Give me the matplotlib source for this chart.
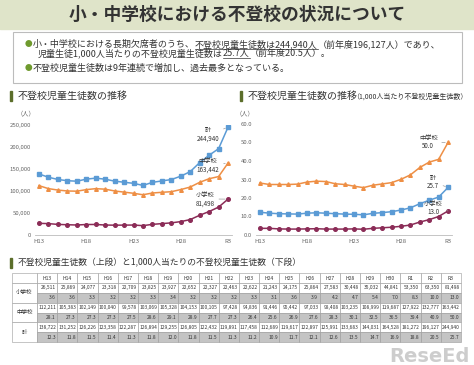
import numpy as np
import matplotlib.pyplot as plt
from matplotlib.patches import Rectangle

plt.rcParams['font.family'] = ['Noto Sans CJK JP', 'DejaVu Sans']

years = ["H13", "H14", "H15", "H16", "H17", "H18", "H19", "H20", "H21", "H22",
         "H23", "H24", "H25", "H26", "H27", "H28", "H29", "H30", "R1", "R2", "R3"]
elem = [26511, 25869, 24077, 23318, 22709, 23825, 23927, 22652, 22327, 22463,
        22622, 21243, 24175, 25864, 27583, 30448, 35032, 44841, 53350, 63350, 81498]
junior = [112211, 105383, 102149, 100040, 99578, 103069, 105328, 104153, 100105, 97428,
          94836, 91446, 95442, 97033, 98408, 103235, 108999, 119687, 127922, 132777, 163442]
total = [138722, 131252, 126226, 123358, 122287, 126894, 129255, 126805, 122432, 119891,
         117458, 112689, 119617, 122897, 125991, 133683, 144031, 164528, 181272, 196127, 244940]
elem_rate = [3.6, 3.6, 3.3, 3.2, 3.2, 3.3, 3.4, 3.2, 3.2, 3.2,
             3.3, 3.1, 3.6, 3.9, 4.2, 4.7, 5.4, 7.0, 8.3, 10.0, 13.0]
junior_rate = [28.1, 27.3, 27.3, 27.3, 27.5, 28.6, 29.1, 28.9, 27.7, 27.3,
               26.4, 25.6, 26.9, 27.6, 28.3, 30.1, 32.5, 36.5, 39.4, 40.9, 50.0]
total_rate = [12.3, 11.8, 11.5, 11.4, 11.3, 11.8, 12.0, 11.8, 11.5, 11.3,
              11.2, 10.9, 11.7, 12.1, 12.6, 13.5, 14.7, 16.9, 18.8, 20.5, 25.7]
row_names = ["小学校", "中学校", "計"]

c_total = "#5b9bd5"
c_junior = "#ee8f45"
c_elem = "#8b2c57"
c_green = "#6f9a2e"
txt = "#333333"
W, H = 474, 365

fig = plt.figure(figsize=(4.74, 3.65), dpi=100)
fig.patch.set_facecolor("white")

# overlay in pixel coords for decoration / table
ov = fig.add_axes([0, 0, 1, 1])
ov.set_xlim(0, W)
ov.set_ylim(H, 0)
ov.axis("off")

# title band
ov.add_patch(Rectangle((0, 0), W, 29, color="#dfe4c9", zorder=0))
ov.text(237, 15, "小・中学校における不登校の状況について", fontsize=12.8,
        color=txt, ha="center", va="center", fontweight="bold")

# summary box
ov.add_patch(Rectangle((13, 32), 449, 51, fill=False, ec="#bcbcbc", lw=0.8))
fig.canvas.draw()
renderer = fig.canvas.get_renderer()


def run_line(x, y, parts, size=6.5):
    # draw pieces one after another, underlining some of them
    for s, ul in parts:
        t = ov.text(x, y, s, fontsize=size, color=txt, ha="left", va="center")
        bb = t.get_window_extent(renderer)
        if ul:
            ov.plot([x, x + bb.width], [y + 4.5, y + 4.5], color=txt, lw=0.5)
        x += bb.width


ov.text(28, 44, "●", fontsize=5.5, color=c_green, ha="center", va="center")
run_line(33, 44, [("小・中学校における長期欠席者のうち、", False),
                  ("不登校児童生徒数は244,940人", True),
                  ("（前年度196,127人）であり、", False)])
run_line(38, 53, [("児童生徒1,000人当たりの不登校児童生徒数は", False),
                  ("25.7人", True),
                  ("（前年度20.5人）。", False)])
ov.text(28, 68, "●", fontsize=5.5, color=c_green, ha="center", va="center")
run_line(33, 68, [("不登校児童生徒数は9年連続で増加し、過去最多となっている。", False)])

# section headings
for bx, label in [(10, "不登校児童生徒数の推移"), (240, "不登校児童生徒数の推移")]:
    ov.add_patch(Rectangle((bx, 91), 2, 10, color="#5b6e2a"))
    ov.text(bx + 8, 96, label, fontsize=7.2, color=txt, ha="left", va="center")
ov.text(352, 97, "（1,000人当たり不登校児童生徒数）", fontsize=5, color=txt,
        ha="left", va="center")
ov.add_patch(Rectangle((10, 258), 2, 10, color="#5b6e2a"))
ov.text(18, 263, "不登校児童生徒数（上段）と1,000人当たりの不登校児童生徒数（下段）",
        fontsize=6.3, color=txt, ha="left", va="center")
ov.text(26, 113, "（人）", fontsize=4.5, color="#666666", ha="center", va="center")
ov.text(245, 113, "（人）", fontsize=4.5, color="#666666", ha="center", va="center")

x = np.arange(len(years))
tick_pos = [0, 5, 10, 15, 20]


def style(ax):
    for s in ["top", "right", "left"]:
        ax.spines[s].set_visible(False)
    ax.spines["bottom"].set_color("#bbbbbb")
    ax.spines["bottom"].set_linewidth(0.6)
    ax.set_xlim(-0.4, 20.4)
    ax.set_xticks(tick_pos)
    ax.set_xticklabels([years[i] for i in tick_pos])
    ax.tick_params(axis="both", length=0, labelsize=4.3, colors="#666666", pad=3)
    ax.patch.set_alpha(0)


# left chart: counts
ax1 = fig.add_axes([35.2 / W, 1 - 235 / H, 196.6 / W, 110 / H])
ax1.plot(x, total, color=c_total, marker="s", ms=2.6, lw=1.1)
ax1.plot(x, junior, color=c_junior, marker="^", ms=2.6, lw=1.1)
ax1.plot(x, elem, color=c_elem, marker="o", ms=2.6, lw=1.1)
ax1.set_ylim(0, 250000)
ax1.set_yticks(np.arange(0, 250001, 50000))
ax1.set_yticklabels([f"{v:,}" for v in range(0, 250001, 50000)])
style(ax1)

lead = dict(arrowstyle="-", color="#999999", lw=0.5, shrinkA=1, shrinkB=2)
ax1.annotate(f"計\n{total[-1]:,}", xy=(20, total[-1]), xytext=(17.9, 228000),
             fontsize=4.5, color=txt, ha="center", va="center", linespacing=1.1,
             arrowprops=lead)
ax1.annotate(f"中学校\n{junior[-1]:,}", xy=(20, junior[-1]), xytext=(17.9, 159000),
             fontsize=4.5, color=txt, ha="center", va="center", linespacing=1.1,
             arrowprops=lead)
ax1.annotate(f"小学校\n{elem[-1]:,}", xy=(20, elem[-1]), xytext=(17.6, 82000),
             fontsize=4.5, color=txt, ha="center", va="center", linespacing=1.1,
             arrowprops=lead)

# right chart: per 1,000
ax2 = fig.add_axes([256.2 / W, 1 - 235 / H, 195.6 / W, 111 / H])
ax2.plot(x, total_rate, color=c_total, marker="s", ms=2.6, lw=1.1)
ax2.plot(x, junior_rate, color=c_junior, marker="^", ms=2.6, lw=1.1)
ax2.plot(x, elem_rate, color=c_elem, marker="o", ms=2.6, lw=1.1)
ax2.set_ylim(0, 60)
ax2.set_yticks(np.arange(0, 61, 10))
ax2.set_yticklabels([f"{v:.1f}" for v in range(0, 61, 10)])
style(ax2)
ax2.annotate(f"中学校\n{junior_rate[-1]:.1f}", xy=(20, junior_rate[-1]), xytext=(17.9, 50.3),
             fontsize=4.5, color=txt, ha="center", va="center", linespacing=1.1,
             arrowprops=lead)
ax2.annotate(f"計\n{total_rate[-1]:.1f}", xy=(20, total_rate[-1]), xytext=(18.4, 28.6),
             fontsize=4.5, color=txt, ha="center", va="center", linespacing=1.1,
             arrowprops=lead)
ax2.annotate(f"小学校\n{elem_rate[-1]:.1f}", xy=(20, elem_rate[-1]), xytext=(18.4, 14.6),
             fontsize=4.5, color=txt, ha="center", va="center", linespacing=1.1,
             arrowprops=lead)

# table
tx0, tx1, col0 = 12, 461, 37
cw = (tx1 - col0) / len(years)
ty0, hh = 273, 10
rh = (342 - ty0 - hh) / 6
grid_c = "#9a9a9a"
gray = "#c4c4c4"
counts = [elem, junior, total]
rates = [elem_rate, junior_rate, total_rate]

for j, yr in enumerate(years):
    cx = col0 + j * cw
    ov.add_patch(Rectangle((cx, ty0), cw, hh, fc="white", ec=grid_c, lw=0.4))
    ov.text(cx + cw / 2, ty0 + hh / 2, yr, fontsize=3.6, color=txt,
            ha="center", va="center")
ov.add_patch(Rectangle((tx0, ty0), col0 - tx0, hh, fc="white", ec=grid_c, lw=0.4))

for i, name in enumerate(row_names):
    top = ty0 + hh + 2 * i * rh
    ov.add_patch(Rectangle((tx0, top), col0 - tx0, 2 * rh, fc="white", ec=grid_c, lw=0.4))
    ov.text((tx0 + col0) / 2, top + rh, name, fontsize=4, color=txt,
            ha="center", va="center")
    for j in range(len(years)):
        cx = col0 + j * cw
        ov.add_patch(Rectangle((cx, top), cw, rh, fc="white", ec=grid_c, lw=0.4))
        ov.add_patch(Rectangle((cx, top + rh), cw, rh, fc=gray, ec=grid_c, lw=0.4))
        ov.text(cx + cw - 1.2, top + rh / 2, f"{counts[i][j]:,}", fontsize=3.5,
                color=txt, ha="right", va="center")
        ov.text(cx + cw - 1.5, top + 1.5 * rh, f"{rates[i][j]:.1f}", fontsize=3.5,
                color=txt, ha="right", va="center")

# watermark
ov.text(470, 357, "ReseEd", fontsize=14, color="#c8c8c8", fontweight="bold",
        ha="right", va="center", family="DejaVu Sans", alpha=0.9)

fig.savefig("out.png", dpi=100)
